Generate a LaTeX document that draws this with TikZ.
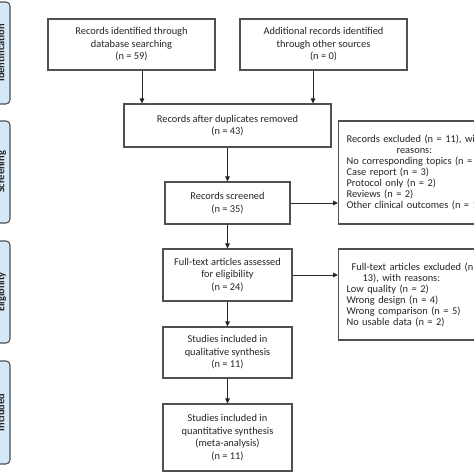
\documentclass[tikz,border=0pt]{standalone}
\usepackage{fontspec}
\setmainfont{Carlito}
\usetikzlibrary{arrows.meta,calc}
\definecolor{boxline}{HTML}{505050}
\definecolor{txt}{HTML}{262626}
\definecolor{barfill}{HTML}{D5E8F8}
\begin{document}
\begin{tikzpicture}[x=1pt,y=-1pt,
  box/.style={draw=boxline,line width=1.1pt,rectangle,inner sep=0pt,align=center,font=\fontsize{10.4}{12.6}\selectfont,text=txt},
  exbox/.style={draw=boxline,line width=1.1pt,rectangle,anchor=west,inner xsep=8pt,inner ysep=0pt,align=left,text width=170pt,font=\fontsize{10.4}{11}\selectfont,text=txt},
  bar/.style={draw=boxline,line width=1.1pt,fill=barfill,rounded corners=4pt,inner sep=0pt},
  barlabel/.style={rotate=90,anchor=base,inner sep=0pt,font=\bfseries\fontsize{10.4}{12}\selectfont,text=txt},
  arr/.style={draw=txt,line width=0.9pt,-{Triangle[length=5pt,width=4.5pt]}}]
\useasboundingbox (0,0) rectangle (474,474);
\clip (0,0) rectangle (474,474);
\fill[white] (0,0) rectangle (474,474);

% phase bars
\node[bar,minimum width=40pt,minimum height=102pt] (bar1) at (-10,53) {};
\node[bar,minimum width=40pt,minimum height=102pt] (bar2) at (-10,172) {};
\node[bar,minimum width=40pt,minimum height=102pt] (bar3) at (-10,292) {};
\node[bar,minimum width=40pt,minimum height=103pt] (bar4) at (-10,412.5) {};
\node[barlabel] (lab1) at (4.5,53) {Identification};
\node[barlabel] (lab2) at (4.5,172) {Screening};
\node[barlabel] (lab3) at (4.5,292) {Eligibility};
\node[barlabel] (lab4) at (4.5,412.5) {Included};

% main boxes
\node[box,minimum width=167pt,minimum height=51pt] (b1) at (131.5,44.5) {Records identified through\\database searching\\(n = 59)};
\node[box,minimum width=167pt,minimum height=51pt] (b2) at (323.5,44.5) {Additional records identified\\through other sources\\(n = 0)};
\node[box,minimum width=207pt,minimum height=43pt] (b3) at (227.5,125.5) {Records after duplicates removed\\(n = 43)};
\node[box,minimum width=125pt,minimum height=42pt] (b4) at (227.5,203) {Records screened\\(n = 35)};
\node[box,minimum width=129pt,minimum height=52pt] (b5) at (227.5,275) {Full-text articles assessed\\for eligibility\\(n = 24)};
\node[box,minimum width=129pt,minimum height=51pt] (b7) at (227.5,352.5) {Studies included in\\qualitative synthesis\\(n = 11)};
\node[box,minimum width=129pt,minimum height=67pt] (b8) at (227.5,437.5) {Studies included in\\quantitative synthesis\\(meta-analysis)\\(n = 11)};

% exclusion boxes
\node[exbox,minimum height=103pt] (ex1) at (338,172.5) {Records excluded (n = 11), with\\
\hspace*{50pt}reasons:\\
No corresponding topics (n = 3)\\
Case report (n = 3)\\
Protocol only (n = 2)\\
Reviews (n = 2)\\
Other clinical outcomes (n = 1)};
\node[exbox,minimum height=91pt] (ex2) at (338,294.5) {\hspace*{5pt}Full-text articles excluded (n =\\
\hspace*{16pt}13), with reasons:\\
Low quality (n = 2)\\
Wrong design (n = 4)\\
Wrong comparison (n = 5)\\
No usable data (n = 2)};

% connectors
\draw[arr] ([xshift=10.5pt]b1.south) -- ([xshift=10.5pt]b1.south |- b3.north);
\draw[arr] ([xshift=-10.5pt]b2.south) -- ([xshift=-10.5pt]b2.south |- b3.north);
\draw[arr] (b3.south) -- (b4.north);
\draw[arr] (b4.south) -- (b5.north);
\draw[arr] (b5.south) -- (b7.north);
\draw[arr] (b7.south) -- (b8.north);
\draw[arr] (b4.east) -- (b4.east -| ex1.west);
\draw[arr] (b5.east) -- (b5.east -| ex2.west);
\end{tikzpicture}
\end{document}
